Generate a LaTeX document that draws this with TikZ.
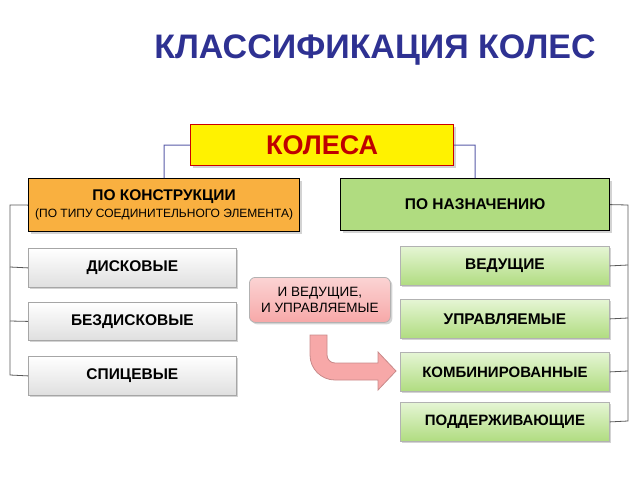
\documentclass[tikz,border=0pt]{standalone}
\usepackage{fontspec}
\setmainfont{Liberation Sans}
\usetikzlibrary{shadows,arrows.meta}
\definecolor{ttl}{HTML}{2E3192}
\definecolor{orng}{HTML}{F9B040}
\definecolor{grn}{HTML}{B0DC80}
\definecolor{lgrn}{HTML}{D4EFB8}
\definecolor{pnk}{HTML}{F7A8A8}
\definecolor{pnkd}{HTML}{C88A8A}
\tikzset{
  box/.style={draw, line width=1.2pt, anchor=north west, inner sep=0pt, align=center, font=\bfseries\fontsize{15.5}{18}\selectfont, drop shadow={opacity=0.35, shadow xshift=2pt, shadow yshift=-2pt}},
  grbox/.style={box, draw=gray!70, line width=0.8pt, top color=white, bottom color=gray!25},
  gnbox/.style={box, draw=gray!60, line width=0.8pt, top color=lgrn!60, bottom color=grn},
  conn/.style={draw=gray!70!black, line width=0.8pt},
  bconn/.style={draw=ttl!80, line width=1pt}
}
\begin{document}
\begin{tikzpicture}[x=1pt,y=-1pt]
\useasboundingbox (0,0) rectangle (640,480);
\node[font=\bfseries\fontsize{34}{38}\selectfont, text=ttl] (title) at (375,50) {КЛАССИФИКАЦИЯ КОЛЕС};
\node[box, draw=red!80!black, fill=yellow, minimum width=263pt, minimum height=41pt, text=red!75!black, font=\bfseries\fontsize{27}{30}\selectfont] (k) at (190,124) {КОЛЕСА};
\node[box, fill=orng, minimum width=271pt, minimum height=53pt] (pk) at (28,178) {ПО КОНСТРУКЦИИ\\[-1pt]{\mdseries\fontsize{12}{14}\selectfont (ПО ТИПУ СОЕДИНИТЕЛЬНОГО ЭЛЕМЕНТА)}};
\node[box, fill=grn, minimum width=269pt, minimum height=52pt] (pn) at (340,178) {ПО НАЗНАЧЕНИЮ};
\node[grbox, minimum width=208pt, minimum height=39pt] (d) at (28,248) {ДИСКОВЫЕ};
\node[grbox, minimum width=208pt, minimum height=38pt] (b) at (28,302) {БЕЗДИСКОВЫЕ};
\node[grbox, minimum width=208pt, minimum height=39pt] (s) at (28,356) {СПИЦЕВЫЕ};
\node[gnbox, minimum width=209pt, minimum height=39pt] (v) at (400,246) {ВЕДУЩИЕ};
\node[gnbox, minimum width=209pt, minimum height=39pt] (u) at (400,299) {УПРАВЛЯЕМЫЕ};
\node[gnbox, minimum width=209pt, minimum height=39pt, font=\bfseries\fontsize{15}{18}\selectfont] (km) at (400,352) {КОМБИНИРОВАННЫЕ};
\node[gnbox, minimum width=209pt, minimum height=39pt, font=\bfseries\fontsize{15}{18}\selectfont] (pd) at (400,402) {ПОДДЕРЖИВАЮЩИЕ};
\node[box, draw=gray!60, line width=0.8pt, rounded corners=6pt, top color=pnk!50, bottom color=pnk, minimum width=141pt, minimum height=45pt, font=\fontsize{13.5}{16}\selectfont] (iv) at (249,277) {И ВЕДУЩИЕ,\\И УПРАВЛЯЕМЫЕ};
% arrow
\draw[draw=pnkd, fill=pnk, line width=0.8pt] (310,335) -- (327,335) -- (327,355) arc[start angle=180,end angle=90,radius=8] -- (378,363) -- (378,352) -- (396,371) -- (378,390) -- (378,380) -- (335,380) arc[start angle=90,end angle=180,radius=25] -- cycle;
\coordinate (arr) at (318,335);
% connectors
\draw[bconn] (k.west) -- (164,145) -- (164,178);
\draw[bconn] (k.east) -- (475,145) -- (475,178);
\draw[conn] (pk.west) -- (10,205) -- (10,375) -- (s.west);
\draw[conn] (10,267) -- (d.west);
\draw[conn] (10,321) -- (b.west);
\draw[conn] (pn.east) -- (628,205) -- (628,421) -- (pd.east);
\draw[conn] (628,265) -- (v.east);
\draw[conn] (628,318) -- (u.east);
\draw[conn] (628,371) -- (km.east);
\end{tikzpicture}
\end{document}
